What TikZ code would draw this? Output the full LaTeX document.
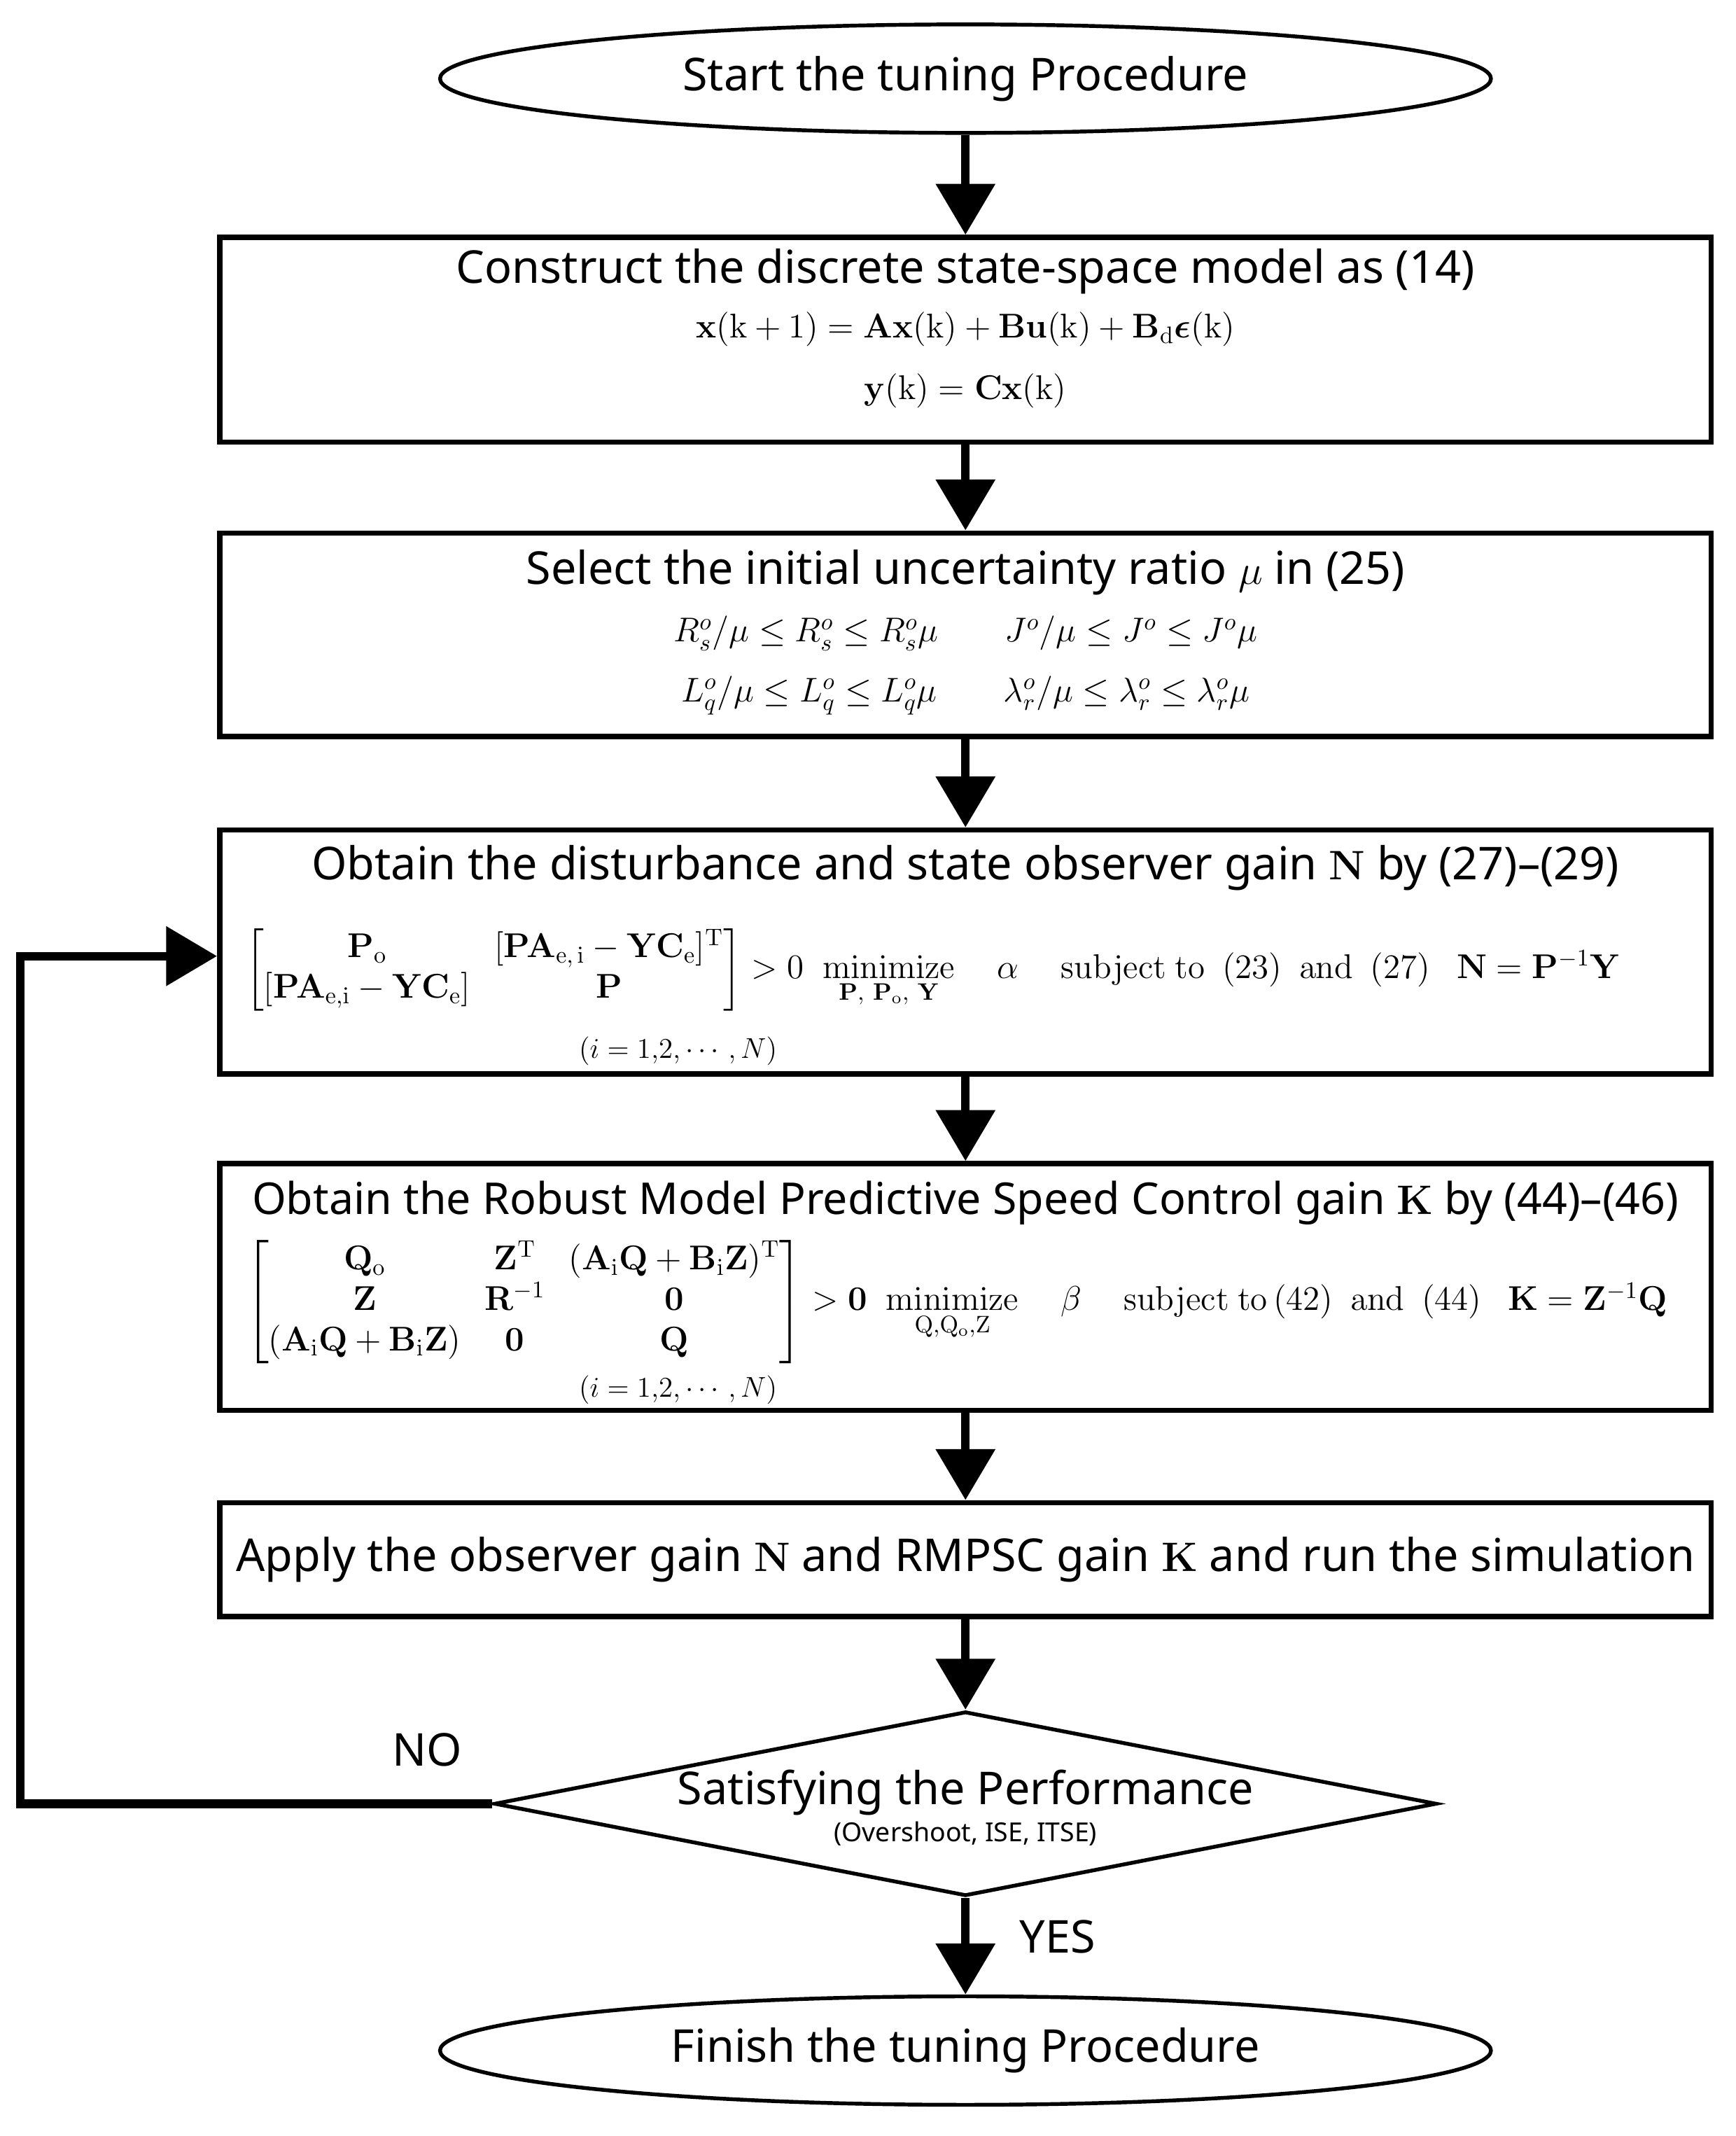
\documentclass[tikz,border=0pt]{standalone}
\usepackage{amsmath}
\usepackage[no-math]{fontspec}
\setmainfont{Noto Sans}
\usetikzlibrary{shapes.geometric,arrows.meta}
\tikzset{
  box/.style = {draw, line width=2.2pt, minimum width=22cm},
  term/.style = {draw, ellipse, line width=1.6pt, minimum width=15.5cm, minimum height=1.6cm},
  flow/.style = {line width=3.6pt, -{Triangle[length=0.75cm,width=0.85cm]}},
  ttl/.style = {font=\fontsize{19}{22}\selectfont},
  eqn/.style = {font=\fontsize{14}{17}\selectfont}
}
\begin{document}
\begin{tikzpicture}
\useasboundingbox (0,0) rectangle (25.6,-31.5);
% terminals
\node[term, ttl] (start) at (14.24,-1.16) {Start the tuning Procedure};
\node[term, ttl] (finish) at (14.24,-30.24) {Finish the tuning Procedure};

% process boxes
\node[box, minimum height=3.02cm] (model) at (14.24,-5.01) {};
\node[box, minimum height=3.0cm] (ratio) at (14.24,-9.36) {};
\node[box, minimum height=3.6cm] (observer) at (14.24,-14.04) {};
\node[box, minimum height=3.64cm] (rmpsc) at (14.24,-18.98) {};
\node[box, minimum height=1.68cm] (apply) at (14.24,-23.0) {};
\node[draw, diamond, line width=1.6pt, aspect=5.1, minimum width=13.9cm, minimum height=2.72cm, inner sep=0pt] (check) at (14.24,-26.6) {};

% texts
\node[ttl] (modelT) at (14.24,-4.0) {Construct the discrete state-space model as (14)};
\node[eqn] (modelA) at (14.24,-4.86) {$\mathbf{x}(\mathrm{k}+1)=\mathbf{Ax}(\mathrm{k})+\mathbf{Bu}(\mathrm{k})+\mathbf{B}_{\mathrm{d}}\boldsymbol{\epsilon}(\mathrm{k})$};
\node[eqn] (modelB) at (14.24,-5.76) {$\mathbf{y}(\mathrm{k})=\mathbf{Cx}(\mathrm{k})$};

\node[ttl] (ratioT) at (14.24,-8.44) {Select the initial uncertainty ratio $\mu$ in (25)};
\node[eqn] (ratioA) at (14.24,-9.34) {$R_s^o/\mu\le R_s^o\le R_s^o\mu\qquad J^o/\mu\le J^o\le J^o\mu$};
\node[eqn] (ratioB) at (14.24,-10.26) {$L_q^o/\mu\le L_q^o\le L_q^o\mu\qquad \lambda_r^o/\mu\le \lambda_r^o\le \lambda_r^o\mu$};

\node[ttl] (observerT) at (14.24,-12.8) {Obtain the disturbance and state observer gain $\mathbf{N}$ by (27)--(29)};
\node[eqn, anchor=west] (observerA) at (3.5,-14.3) {$\begin{bmatrix} \mathbf{P}_{\mathrm{o}} & [\mathbf{PA}_{\mathrm{e,\,i}}-\mathbf{YC}_{\mathrm{e}}]^{\mathrm{T}}\\ [\mathbf{PA}_{\mathrm{e,i}}-\mathbf{YC}_{\mathrm{e}}] & \mathbf{P}\end{bmatrix}>0\;\;\underset{\mathbf{P},\ \mathbf{P}_{\mathrm{o}},\ \mathbf{Y}}{\mathrm{minimize}}\quad\ \alpha\quad\ \mathrm{subject\ to}\ \ (23)\ \ \mathrm{and}\ \ (27)\ \ \ \mathbf{N}=\mathbf{P}^{-1}\mathbf{Y}$};
\node[eqn, font=\fontsize{12}{14}\selectfont] (observerI) at (10.0,-15.5) {$(i=1{,}2,\cdots,N)$};

\node[ttl, font=\fontsize{18.4}{22}\selectfont] (rmpscT) at (14.24,-17.74) {Obtain the Robust Model Predictive Speed Control gain $\mathbf{K}$ by (44)--(46)};
\node[eqn, anchor=west] (rmpscA) at (3.5,-19.2) {$\begin{bmatrix} \mathbf{Q}_{\mathrm{o}} & \mathbf{Z}^{\mathrm{T}} & (\mathbf{A}_{\mathrm{i}}\mathbf{Q}+\mathbf{B}_{\mathrm{i}}\mathbf{Z})^{\mathrm{T}}\\ \mathbf{Z} & \mathbf{R}^{-1} & \mathbf{0}\\ (\mathbf{A}_{\mathrm{i}}\mathbf{Q}+\mathbf{B}_{\mathrm{i}}\mathbf{Z}) & \mathbf{0} & \mathbf{Q}\end{bmatrix}>\mathbf{0}\;\;\underset{\mathrm{Q,Q_o,Z}}{\mathrm{minimize}}\quad\ \beta\quad\ \mathrm{subject\ to}\,(42)\ \ \mathrm{and}\ \ (44)\ \ \ \mathbf{K}=\mathbf{Z}^{-1}\mathbf{Q}$};
\node[eqn, font=\fontsize{12}{14}\selectfont] (rmpscI) at (10.0,-20.5) {$(i=1{,}2,\cdots,N)$};

\node[ttl] (applyT) at (apply) {Apply the observer gain $\mathbf{N}$ and RMPSC gain $\mathbf{K}$ and run the simulation};

\node[ttl] (checkT) at (14.24,-26.44) {Satisfying the Performance};
\node[font=\fontsize{11}{13}\selectfont] (checkS) at (14.24,-27.04) {(Overshoot, ISE, ITSE)};

% connectors
\draw[flow] (start) -- (model);
\draw[flow] (model) -- (ratio);
\draw[flow] (ratio) -- (observer);
\draw[flow] (observer) -- (rmpsc);
\draw[flow] (rmpsc) -- (apply);
\draw[flow] (apply) -- (check);
\draw[flow] (check) -- (finish);
\coordinate (loopB) at (0.3,-26.6);
\coordinate (loopT) at (0.3,-14.1);
\draw[flow] (check.west) -- (loopB) -- (loopT) -- (observer.west |- loopT);
\node[ttl] (no) at (6.3,-25.8) {NO};
\node[ttl] (yes) at (15.6,-28.56) {YES};
\end{tikzpicture}
\end{document}
